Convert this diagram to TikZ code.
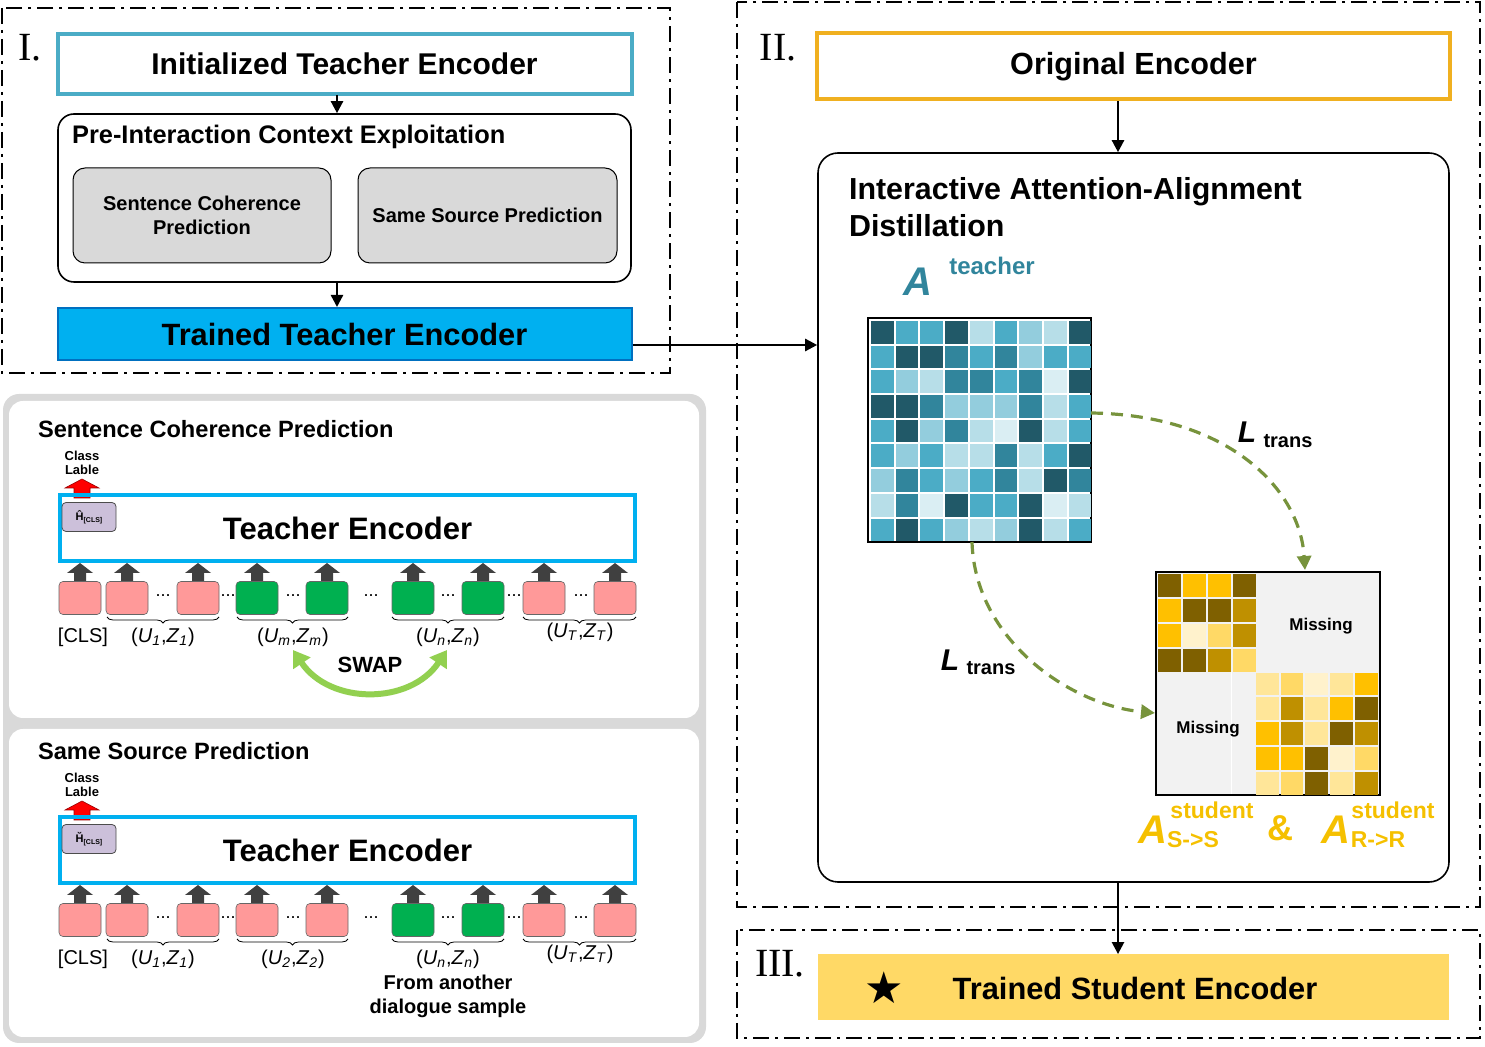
\documentclass[tikz,border=0pt]{standalone}
\usepackage{fontspec}
\setmainfont{Liberation Sans}
\newfontfamily\serifnum{Liberation Serif}
\usetikzlibrary{arrows.meta,decorations.pathreplacing,calc}
\definecolor{tealb}{HTML}{4BACC6}
\definecolor{cyanf}{HTML}{00B0F0}
\definecolor{blueb}{HTML}{0070C0}
\definecolor{orab}{HTML}{F0B020}
\definecolor{stud}{HTML}{FFD966}
\definecolor{ateach}{HTML}{31859C}
\definecolor{agold}{HTML}{F5C000}
\definecolor{dgreen}{HTML}{77933C}
\definecolor{lgreen}{HTML}{92D050}
\definecolor{pinkt}{HTML}{FF9999}
\definecolor{greent}{HTML}{00B050}
\definecolor{lav}{HTML}{CCC0DA}
\definecolor{tA}{HTML}{215968}\definecolor{tB}{HTML}{31859C}\definecolor{tC}{HTML}{4BACC6}
\definecolor{tD}{HTML}{93CDDD}\definecolor{tE}{HTML}{B7DEE8}\definecolor{tF}{HTML}{DAEEF3}
\definecolor{sD}{HTML}{7F6000}\definecolor{sM}{HTML}{BF9000}\definecolor{sY}{HTML}{FFC000}
\definecolor{sL}{HTML}{FFD966}\definecolor{sP}{HTML}{FFE699}\definecolor{sW}{HTML}{FFF2CC}
\newcommand{\blkarrow}[4]{\fill[#4] ({#1-6},#3) -- ({#1-6},{#2+10}) -- ({#1-13},{#2+10}) -- (#1,#2) -- ({#1+13},{#2+10}) -- ({#1+6},{#2+10}) -- ({#1+6},#3) -- cycle;}
\newcommand{\redarrow}[3]{\fill[red,draw=red!60!black,line width=0.3pt] ({#1-8},#3) -- ({#1-8},{#2+9}) -- ({#1-17},{#2+9}) -- (#1,#2) -- ({#1+17},{#2+9}) -- ({#1+8},{#2+9}) -- ({#1+8},#3) -- cycle;}
\newcommand{\UZ}[2]{(\textit{U}\textsubscript{\textit{#1}},\textit{Z}\textsubscript{\textit{#2}})}
\begin{document}
\begin{tikzpicture}[x=0.5pt,y=-0.5pt,
  dd/.style={line width=1.2pt,dash pattern=on 8pt off 3pt on 1.5pt off 3pt},
  arr/.style={-{Triangle[length=6pt,width=6pt]},line width=1.2pt},
  tok/.style={draw=black!60,line width=0.3pt,rounded corners=2pt,minimum width=21pt,minimum height=16.5pt,inner sep=0pt},
  grn/.style={dgreen,line width=1.6pt,dash pattern=on 6pt off 4pt,-{Triangle[length=7pt,width=7pt]}},
  brc/.style={decorate,decoration={brace,mirror,amplitude=3pt},line width=0.4pt}]
\useasboundingbox (0,0) rectangle (1485,1047);
% Panel I
\draw[dd] (2,8) rectangle (670,373);
\node[font=\serifnum\fontsize{20}{20}\selectfont] at (30,48) {I.};
\node[draw=tealb,line width=2pt,minimum width=287pt,minimum height=30pt,font=\bfseries\fontsize{15}{15}\selectfont] (ite) at (344.5,64) {Initialized Teacher Encoder};
\node[draw,rounded corners=8pt,line width=0.8pt,minimum width=286.5pt,minimum height=84pt] (pice) at (344.5,198) {};
\node[anchor=west,font=\bfseries\fontsize{12.7}{12.7}\selectfont] at (65,137) {Pre-Interaction Context Exploitation};
\node[draw,fill=black!15,rounded corners=6pt,line width=0.5pt,minimum width=129pt,minimum height=47.5pt,align=center,font=\bfseries\fontsize{10}{12}\selectfont] (scp) at (202,215.5) {Sentence Coherence\\Prediction};
\node[draw,fill=black!15,rounded corners=6pt,line width=0.5pt,minimum width=129.5pt,minimum height=47.5pt,font=\bfseries\fontsize{10}{12}\selectfont] (ssp) at (487.5,215.5) {Same Source Prediction};
\node[draw=blueb,fill=cyanf,line width=1pt,minimum width=287pt,minimum height=26pt,font=\bfseries\fontsize{15.4}{15.4}\selectfont] (tte) at (344.5,334) {Trained Teacher Encoder};
\draw[arr] (337,95) -- (pice.north -| 337,0);
\draw[arr] (pice.south -| 337,0) -- (tte.north -| 337,0);
% Panel II
\draw[dd] (737,2) rectangle (1480,907);
\node[font=\serifnum\fontsize{20}{20}\selectfont] at (778,48) {II.};
\node[draw=orab,line width=2pt,minimum width=316.5pt,minimum height=33pt,font=\bfseries\fontsize{15.3}{15.3}\selectfont] (oe) at (1133.5,66.5) {Original Encoder};
\node[draw,rounded corners=10pt,line width=0.8pt,minimum width=315.5pt,minimum height=364.5pt] (iad) at (1133.5,517.5) {};
\node[anchor=west,align=left,font=\bfseries\fontsize{15.2}{18.5}\selectfont] at (842,207) {Interactive Attention-Alignment\\Distillation};
\draw[arr] (oe.south -| 1118,0) -- (iad.north -| 1118,0);
\draw[arr] (tte.east |- 0,345) -- (iad.west |- 0,345);
\node[text=ateach,font=\bfseries\itshape\fontsize{20}{20}\selectfont] at (918,282) {A};
\node[text=ateach,font=\bfseries\fontsize{12}{12}\selectfont] at (992,266) {teacher};
% teacher matrix
\draw[line width=0.8pt] (868,318) rectangle (1091,542);
\coordinate (tm) at (1091,413);
\coordinate (tmb) at (972,542);
\foreach \row [count=\r from 0] in {
 {tA,tC,tC,tA,tE,tC,tD,tE,tA},{tC,tA,tA,tB,tC,tB,tD,tC,tC},{tC,tD,tE,tB,tB,tC,tB,tF,tA},
 {tA,tA,tB,tD,tD,tD,tB,tE,tC},{tC,tA,tD,tB,tE,tF,tA,tE,tC},{tC,tD,tC,tE,tE,tB,tE,tC,tA},
 {tD,tB,tC,tD,tC,tB,tE,tA,tB},{tE,tB,tF,tA,tC,tC,tA,tF,tE},{tC,tA,tC,tD,tE,tD,tA,tE,tC}}{
 \foreach \c [count=\k from 0] in \row {
  \fill[\c] ({870+\k*24.7+1},{320+\r*24.7+1}) rectangle ++(22.7,22.7);
 }}
% student matrix
\fill[black!5] (1156,572) rectangle (1380,795);
\draw[white,line width=0.4pt] (1231,672) -- (1231,795);
\draw[line width=0.8pt] (1156,572) rectangle (1380,795);
\foreach \row [count=\r from 0] in {{sD,sY,sY,sD},{sY,sD,sD,sM},{sY,sW,sL,sM},{sD,sD,sM,sL}}{
 \foreach \c [count=\k from 0] in \row {
  \fill[\c] ({1157+\k*24.9+1},{573+\r*24.9+1}) rectangle ++(22.9,22.9);
 }}
\foreach \row [count=\r from 4] in {{sP,sL,sW,sP,sY},{sP,sM,sP,sY,sD},{sY,sM,sP,sD,sM},{sY,sY,sD,sW,sL},{sP,sL,sD,sP,sM}}{
 \foreach \c [count=\k from 4] in \row {
  \fill[\c] ({1155+\k*24.9+1},{572+\r*24.9+1}) rectangle ++(22.9,22.9);
 }}
\node[font=\bfseries\fontsize{8.5}{8.5}\selectfont] (m1) at (1321,626) {Missing};
\node[font=\bfseries\fontsize{8.5}{8.5}\selectfont] (m2) at (1208,729) {Missing};
\coordinate (st) at (1305,570);
\coordinate (sl) at (1155,713);
\draw[grn] (tm) .. controls (1230,415) and (1300,490) .. (st);
\draw[grn] (tmb) .. controls (975,640) and (1070,705) .. (sl);
\node[font=\bfseries\itshape\fontsize{15}{15}\selectfont] at (1247,432) {L};
\node[font=\bfseries\fontsize{10}{10}\selectfont] at (1288,441) {trans};
\node[font=\bfseries\itshape\fontsize{15}{15}\selectfont] at (950,660) {L};
\node[font=\bfseries\fontsize{10}{10}\selectfont] at (991,668) {trans};
\node[text=agold,font=\bfseries\itshape\fontsize{20}{20}\selectfont] at (1153,830) {A};
\node[text=agold,font=\bfseries\fontsize{11.5}{11.5}\selectfont] at (1212,810) {student};
\node[text=agold,font=\bfseries\fontsize{11.5}{11.5}\selectfont] at (1193,840) {S->S};
\node[text=agold,font=\bfseries\fontsize{18}{18}\selectfont] at (1280,828) {\&};
\node[text=agold,font=\bfseries\itshape\fontsize{20}{20}\selectfont] at (1336,830) {A};
\node[text=agold,font=\bfseries\fontsize{11.5}{11.5}\selectfont] at (1393,810) {student};
\node[text=agold,font=\bfseries\fontsize{11.5}{11.5}\selectfont] at (1378,840) {R->R};
% Panel III
\draw[dd] (737,930) rectangle (1480,1038);
\node[font=\serifnum\fontsize{20}{20}\selectfont] at (780,964) {III.};
\node[fill=stud,minimum width=315.5pt,minimum height=33pt] (tse) at (1133.5,987.5) {};
\node[font=\bfseries\fontsize{15.4}{15.4}\selectfont] (tsel) at (1135,988) {Trained Student Encoder};
\node[font=\fontsize{22}{22}\selectfont] at (884,988) {\fontspec{DejaVu Sans}★};
\draw[arr] (iad.south -| 1118,0) -- (tse.north -| 1118,0);
% bottom-left panels
\fill[black!15,rounded corners=8pt] (3,394) rectangle (706,1043);
\fill[white,rounded corners=7pt] (9,401) rectangle (699,718);
\fill[white,rounded corners=7pt] (9,729) rectangle (699,1037);
\foreach \sec/\yo/\ttl/\hs in {1/0/Sentence Coherence Prediction/{\^{H}},2/322/Same Source Prediction/{\u{H}}}{
 \begin{scope}[yshift=-\yo*0.5pt]
 \node[anchor=west,font=\bfseries\fontsize{11.8}{11.8}\selectfont] at (31,429) {\ttl};
 \node[align=center,font=\bfseries\fontsize{6.5}{7}\selectfont] at (82,463) {Class\\Lable};
 \redarrow{82}{479}{498}
 \node[draw=cyanf,line width=2pt,minimum width=287.5pt,minimum height=33pt,font=\bfseries\fontsize{15.5}{15.5}\selectfont] (te\sec) at (347.5,528.5) {Teacher Encoder};
 \node[draw=black!70,fill=lav,rounded corners=2pt,line width=0.4pt,minimum width=27pt,minimum height=14.5pt,inner sep=0pt,font=\bfseries\fontsize{5.5}{5.5}\selectfont] (h\sec) at (89,517) {\hs\raisebox{-0.3ex}{\fontsize{3.5}{3.5}\selectfont [CLS]}};
 \foreach \x in {80,127,198,257,327,413,483,544,615}{\blkarrow{\x}{563}{584}{black!75}}
 \foreach \x in {163,228,293,371,448,514,581}{\node[font=\fontsize{9}{9}\selectfont] at (\x,596) {...};}
 \draw[brc] (107,617) -- (219,617);
 \draw[brc] (237,617) -- (348,617);
 \draw[brc] (392,617) -- (504,617);
 \draw[brc] (523,617) -- (636,617);
 \end{scope}}
% tokens
\foreach \x/\c [count=\i] in {80/pinkt,127/pinkt,198/pinkt,257/greent,327/greent,413/greent,483/greent,544/pinkt,615/pinkt}{
 \node[tok,fill=\c] (a\i) at (\x,598) {};}
\foreach \x/\c [count=\i] in {80/pinkt,127/pinkt,198/pinkt,257/pinkt,327/pinkt,413/greent,483/greent,544/pinkt,615/pinkt}{
 \node[tok,fill=\c] (b\i) at (\x,920) {};}
\begin{scope}[font=\fontsize{10}{10}\selectfont]
\node at (83,637) {[CLS]};
\node at (163,637) {\UZ{1}{1}};
\node at (293,637) {\UZ{m}{m}};
\node at (448,637) {\UZ{n}{n}};
\node at (580,632) {\UZ{T}{T}};
\node at (83,959) {[CLS]};
\node at (163,959) {\UZ{1}{1}};
\node at (293,959) {\UZ{2}{2}};
\node at (448,959) {\UZ{n}{n}};
\node at (580,954) {\UZ{T}{T}};
\end{scope}
\node[align=center,font=\bfseries\fontsize{10}{12}\selectfont] at (448,996) {From another\\dialogue sample};
\node[font=\bfseries\fontsize{11}{11}\selectfont] (swap) at (370,665) {SWAP};
\draw[lgreen,line width=3pt,{Triangle[length=8pt,width=10pt]}-{Triangle[length=8pt,width=10pt]}] (293,650) .. controls (330,705) and (410,705) .. (447,650);
\end{tikzpicture}
\end{document}
